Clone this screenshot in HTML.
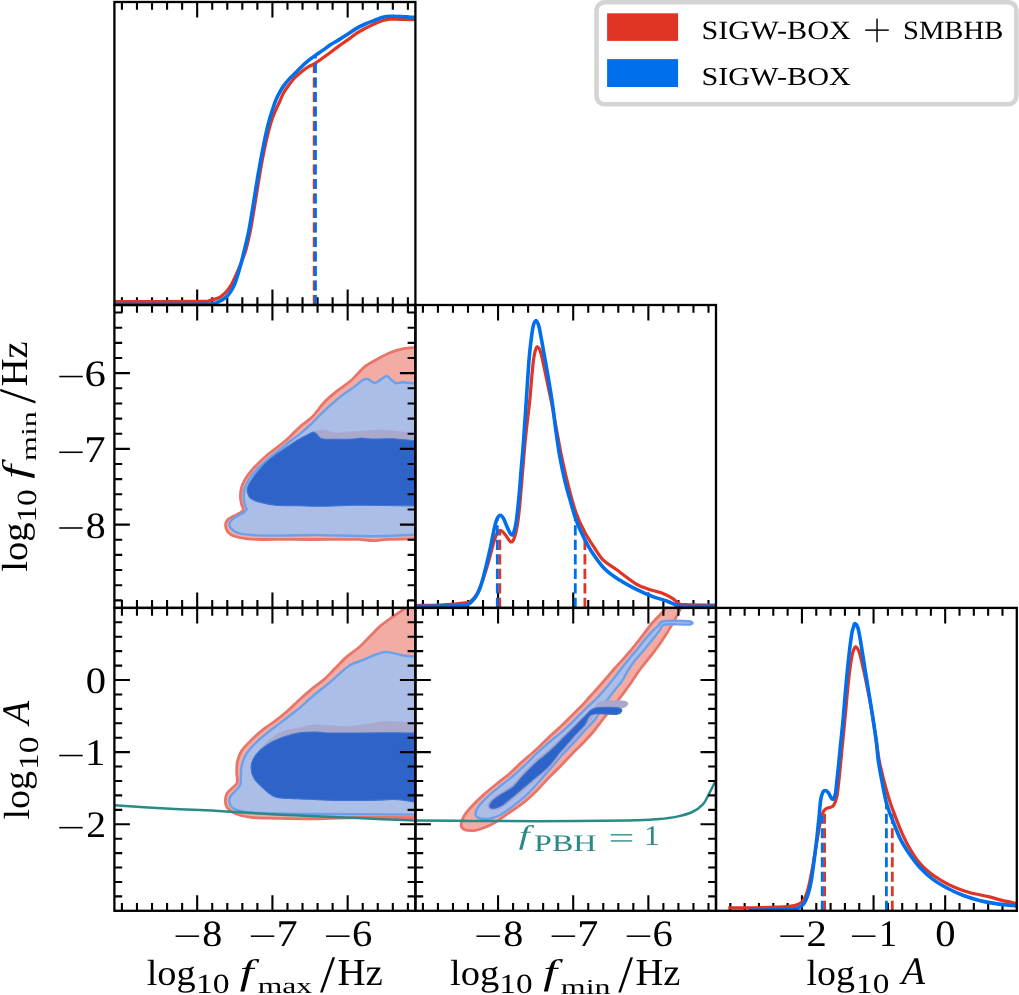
<!DOCTYPE html>
<html><head><meta charset="utf-8"><style>
html,body{margin:0;padding:0;background:#fff;}
body{width:1019px;height:995px;overflow:hidden;font-family:"Liberation Serif",serif;}
svg{display:block;}
text{text-rendering:geometricPrecision;}
svg{will-change:transform;}
</style></head><body>
<svg width="1019" height="995" viewBox="0 0 1019 995"><defs><clipPath id="cp00"><rect x="114.4" y="2" width="301" height="303"/></clipPath><clipPath id="cp10"><rect x="114.4" y="305" width="301" height="302.9"/></clipPath><clipPath id="cp11"><rect x="415.4" y="305" width="300.6" height="302.9"/></clipPath><clipPath id="cp20"><rect x="114.4" y="607.9" width="301" height="302.9"/></clipPath><clipPath id="cp21"><rect x="415.4" y="607.9" width="300.6" height="302.9"/></clipPath><clipPath id="cp22"><rect x="716" y="607.9" width="300.8" height="302.9"/></clipPath></defs><rect width="1019" height="995" fill="#fff"/><g clip-path="url(#cp10)"><path d="M425,347.6 C418.9,347.62 417.15,347.48 413.4,347.7 C409.65,347.92 406.32,348.1 402.5,348.9 C398.68,349.7 394.52,350.9 390.5,352.5 C386.48,354.1 382.63,356.18 378.4,358.5 C374.17,360.82 369.72,362.68 365.1,366.4 C360.48,370.12 355.52,376.58 350.7,380.8 C345.88,385.02 340.63,388.08 336.2,391.7 C331.77,395.32 328.12,398.28 324.1,402.5 C320.08,406.72 316.12,412.97 312.1,417 C308.08,421.03 304.3,422.87 300,426.7 C295.7,430.53 290.43,436.32 286.3,440 C282.17,443.68 278.88,445.85 275.2,448.8 C271.52,451.75 267.88,454.38 264.2,457.7 C260.52,461.02 256.23,465.2 253.1,468.7 C249.97,472.2 247.33,475.57 245.4,478.7 C243.47,481.83 242.33,484.55 241.5,487.5 C240.67,490.45 240.4,493.63 240.4,496.4 C240.4,499.17 241.03,501.88 241.5,504.1 C241.97,506.32 243.47,508.22 243.2,509.7 C242.93,511.18 241.55,511.9 239.9,513 C238.25,514.1 235.33,515.2 233.3,516.3 C231.27,517.4 229,518.13 227.7,519.6 C226.4,521.07 225.5,523.07 225.5,525.1 C225.5,527.13 226.22,529.95 227.7,531.8 C229.18,533.65 231.08,535.02 234.4,536.2 C237.72,537.38 242.63,538.35 247.6,538.9 C252.57,539.45 257.75,539.43 264.2,539.5 C270.65,539.57 278.93,539.3 286.3,539.3 C293.67,539.3 301.6,539.48 308.4,539.5 C315.2,539.52 318.92,539.42 327.1,539.4 C335.28,539.38 349.9,539.2 357.5,539.4 C365.1,539.6 367.62,540.6 372.7,540.6 C377.78,540.6 381.15,539.7 388,539.4 C394.85,539.1 407.63,538.9 413.8,538.8 C419.97,538.7 418.97,538.8 425,538.8 C431.03,538.8 445.83,570.67 450,538.8 C454.17,506.93 454.17,379.47 450,347.6 C445.83,315.73 431.1,347.58 425,347.6 Z" fill="#f2aca4" stroke="#e8756a" stroke-width="2.8" stroke-linejoin="round"/><path d="M425,383.3 C418.9,383.3 417.15,383.47 413.4,383.3 C409.65,383.13 405.32,382.3 402.5,382.3 C399.68,382.3 398.3,383.65 396.5,383.3 C394.7,382.95 393.3,381.42 391.7,380.2 C390.1,378.98 388.72,376.1 386.9,376 C385.08,375.9 382.62,378.5 380.8,379.6 C378.98,380.7 377.4,382.2 376,382.6 C374.6,383 373.8,382.6 372.4,382 C371,381.4 369.22,379.3 367.6,379 C365.98,378.7 364.92,378.88 362.7,380.2 C360.48,381.52 357.72,384.38 354.3,386.9 C350.88,389.42 347.23,391.28 342.2,395.3 C337.17,399.32 329.12,406.37 324.1,411 C319.08,415.63 316.12,419.28 312.1,423.1 C308.08,426.92 303.38,431.08 300,433.9 C296.62,436.72 295,437.52 291.8,440 C288.6,442.48 284.48,445.85 280.8,448.8 C277.12,451.75 273.75,454.18 269.7,457.7 C265.65,461.22 260,466.22 256.5,469.9 C253,473.58 250.73,476.48 248.7,479.8 C246.67,483.12 245.12,486.67 244.3,489.8 C243.48,492.93 243.62,495.85 243.8,498.6 C243.98,501.35 244.95,504.45 245.4,506.3 C245.85,508.15 247.05,508.5 246.5,509.7 C245.95,510.9 244.3,512.03 242.1,513.5 C239.9,514.97 235.42,516.75 233.3,518.5 C231.18,520.25 229.78,522.35 229.4,524 C229.02,525.65 229.62,526.92 231,528.4 C232.38,529.88 234.02,531.78 237.7,532.9 C241.38,534.02 246.85,534.65 253.1,535.1 C259.35,535.55 267.83,535.57 275.2,535.6 C282.57,535.63 289.83,535.38 297.3,535.3 C304.77,535.22 307.43,534.95 320,535.1 C332.57,535.25 357.07,536.25 372.7,536.2 C388.33,536.15 405.08,535.03 413.8,534.8 C422.52,534.57 418.97,534.8 425,534.8 C431.03,534.8 445.83,560.05 450,534.8 C454.17,509.55 454.17,408.55 450,383.3 C445.83,358.05 431.1,383.3 425,383.3 Z" fill="#aabee8" stroke="#6ca0ea" stroke-width="2.4" stroke-linejoin="round"/><path d="M425,432.7 C418.9,432.7 418.15,433 413.4,432.7 C408.65,432.4 402.33,431.4 396.5,430.9 C390.67,430.4 384.43,429.7 378.4,429.7 C372.37,429.7 365.32,430.6 360.3,430.9 C355.28,431.2 352.32,431.2 348.3,431.5 C344.28,431.8 340.23,433 336.2,432.7 C332.17,432.4 327.72,429.98 324.1,429.7 C320.48,429.42 317.18,430.2 314.5,431 C311.82,431.8 310.42,433.33 308,434.5 C305.58,435.67 303,436.42 300,438 C297,439.58 293.67,441.67 290,444 C286.33,446.33 282,449 278,452 C274,455 269.83,458.17 266,462 C262.17,465.83 257.83,471 255,475 C252.17,479 250,483 249,486 C248,489 248.5,491 249,493 C249.5,495 250.33,496.67 252,498 C253.67,499.33 255.13,500 259,501 C262.87,502 268.82,503.37 275.2,504 C281.58,504.63 283.58,504.75 297.3,504.8 C311.02,504.85 338.08,504.28 357.5,504.3 C376.92,504.32 402.55,504.8 413.8,504.9 C425.05,505 418.97,504.9 425,504.9 C431.03,504.9 445.83,516.93 450,504.9 C454.17,492.87 454.17,444.73 450,432.7 C445.83,420.67 431.1,432.7 425,432.7 Z" fill="#a9a8cd" stroke="none"/><path d="M425,440.5 C418.9,440.5 418.15,440.75 413.4,440.5 C408.65,440.25 400.32,439.3 396.5,439 C392.68,438.7 394.52,438.7 390.5,438.7 C386.48,438.7 377.43,439.1 372.4,439 C367.37,438.9 363.32,438.1 360.3,438.1 C357.28,438.1 358.32,438.8 354.3,439 C350.28,439.2 341.63,439.35 336.2,439.3 C330.77,439.25 324.92,439.5 321.7,438.7 C318.48,437.9 318.3,435.6 316.9,434.5 C315.5,433.4 314.92,432 313.3,432.1 C311.68,432.2 309.42,434 307.2,435.1 C304.98,436.2 301.65,437.83 300,438.7 C298.35,439.57 299.58,438.83 297.3,440.3 C295.02,441.77 289.98,445.05 286.3,447.5 C282.62,449.95 278.88,452.2 275.2,455 C271.52,457.8 267.88,460.53 264.2,464.3 C260.52,468.07 255.87,473.73 253.1,477.6 C250.33,481.47 248.52,484.92 247.6,487.5 C246.68,490.08 247.05,491.25 247.6,493.1 C248.15,494.95 249.05,497.13 250.9,498.6 C252.75,500.07 254.65,500.8 258.7,501.9 C262.75,503 268.77,504.55 275.2,505.2 C281.63,505.85 289.83,505.62 297.3,505.8 C304.77,505.98 309.97,506.38 320,506.3 C330.03,506.22 341.87,505.37 357.5,505.3 C373.13,505.23 402.55,505.8 413.8,505.9 C425.05,506 418.97,505.9 425,505.9 C431.03,505.9 445.83,516.8 450,505.9 C454.17,495 454.17,451.4 450,440.5 C445.83,429.6 431.1,440.5 425,440.5 Z" fill="#2e63c7" stroke="#3d74d6" stroke-width="1.1" stroke-linejoin="round"/></g><g clip-path="url(#cp20)"><path d="M425,598 C418.67,598 415.02,596.67 412,598 C408.98,599.33 408.45,604.02 406.9,606 C405.35,607.98 405.28,607.95 402.7,609.9 C400.12,611.85 395.15,615 391.4,617.7 C387.65,620.4 383.72,623.05 380.2,626.1 C376.68,629.15 373.82,632.48 370.3,636 C366.78,639.52 363.08,643.68 359.1,647.2 C355.12,650.72 350.38,653.58 346.4,657.1 C342.42,660.62 338.95,664.55 335.2,668.3 C331.45,672.05 327.88,676.08 323.9,679.6 C319.92,683.12 315.28,686.12 311.3,689.4 C307.32,692.68 303.78,695.87 300,699.3 C296.22,702.73 292.72,706.4 288.6,710 C284.48,713.6 279.52,717.68 275.3,720.9 C271.08,724.12 267.32,726.08 263.3,729.3 C259.28,732.52 254.83,736.58 251.2,740.2 C247.57,743.82 243.82,747.38 241.5,751 C239.18,754.62 238.1,758.28 237.3,761.9 C236.5,765.52 236.7,769.28 236.7,772.7 C236.7,776.12 237.9,779.98 237.3,782.4 C236.7,784.82 234.8,785.4 233.1,787.2 C231.4,789 228.4,790.98 227.1,793.2 C225.8,795.42 225.3,798.08 225.3,800.5 C225.3,802.92 225.4,805.5 227.1,807.7 C228.8,809.9 231.48,812.08 235.5,813.7 C239.52,815.32 244.57,816.63 251.2,817.4 C257.83,818.17 264.67,818.07 275.3,818.3 C285.93,818.53 301.3,818.93 315,818.8 C328.7,818.67 345.33,817.72 357.5,817.5 C369.67,817.28 378.63,817.47 388,817.5 C397.37,817.53 407.53,817.67 413.7,817.7 C419.87,817.73 418.95,817.7 425,817.7 C431.05,817.7 445.83,854.32 450,817.7 C454.17,781.08 454.17,634.62 450,598 C445.83,561.38 431.33,598 425,598 Z" fill="#f2aca4" stroke="#e8756a" stroke-width="2.8" stroke-linejoin="round"/><path d="M425,656.4 C418.75,656.4 416.45,656.63 412.5,656.4 C408.55,656.17 404.82,655.63 401.3,655 C397.78,654.37 394.22,653.08 391.4,652.6 C388.58,652.12 387.2,651.7 384.4,652.1 C381.6,652.5 378.12,653.7 374.6,655 C371.08,656.3 367.3,658.27 363.3,659.9 C359.3,661.53 354.58,662.47 350.6,664.8 C346.62,667.13 343.15,670.73 339.4,673.9 C335.65,677.07 332.32,680.28 328.1,683.8 C323.88,687.32 318.78,691.02 314.1,695 C309.42,698.98 302.85,705.2 300,707.7 C297.15,710.2 300.12,707.6 297,710 C293.88,712.4 286.52,718.08 281.3,722.1 C276.08,726.12 270.32,730.28 265.7,734.1 C261.08,737.92 257.02,741.38 253.6,745 C250.18,748.62 247.22,752.18 245.2,755.8 C243.18,759.42 242.22,763.07 241.5,766.7 C240.78,770.33 241.1,774.58 240.9,777.6 C240.7,780.62 241.2,782.6 240.3,784.8 C239.4,787 237.2,788.78 235.5,790.8 C233.8,792.82 231.1,794.88 230.1,796.9 C229.1,798.92 229,801 229.5,802.9 C230,804.8 230.48,806.8 233.1,808.3 C235.72,809.8 238.17,811.03 245.2,811.9 C252.23,812.77 263.67,813.15 275.3,813.5 C286.93,813.85 291.93,813.82 315,814 C338.07,814.18 395.37,814.5 413.7,814.6 C432.03,814.7 418.95,814.6 425,814.6 C431.05,814.6 445.83,840.97 450,814.6 C454.17,788.23 454.17,682.77 450,656.4 C445.83,630.03 431.25,656.4 425,656.4 Z" fill="#aabee8" stroke="#6ca0ea" stroke-width="2.4" stroke-linejoin="round"/><path d="M425,722.5 C419,722.5 418.42,722.62 414,722.5 C409.58,722.38 403.9,721.97 398.5,721.8 C393.1,721.63 387.47,721.03 381.6,721.5 C375.73,721.97 369.17,723.8 363.3,724.6 C357.43,725.4 352.27,726.18 346.4,726.3 C340.53,726.42 333.48,725.58 328.1,725.3 C322.72,725.02 318.78,724.23 314.1,724.6 C309.42,724.97 305.47,726.32 300,727.5 C294.53,728.68 286.63,729.45 281.3,731.7 C275.97,733.95 271.88,737.62 268,741 C264.12,744.38 260.5,748 258,752 C255.5,756 253.5,760.83 253,765 C252.5,769.17 253.17,773.33 255,777 C256.83,780.67 260.5,783.92 264,787 C267.5,790.08 271.1,793.75 276,795.5 C280.9,797.25 283.57,796.92 293.4,797.5 C303.23,798.08 318.23,798.83 335,799 C351.77,799.17 380.83,798.33 394,798.5 C407.17,798.67 408.83,799.75 414,800 C419.17,800.25 419,800 425,800 C431,800 445.83,812.92 450,800 C454.17,787.08 454.17,735.42 450,722.5 C445.83,709.58 431,722.5 425,722.5 Z" fill="#a9a8cd" stroke="none"/><path d="M425,733 C419,733 420.77,733.03 414,733 C407.23,732.97 394.02,732.8 384.4,732.8 C374.78,732.8 365.68,732.97 356.3,733 C346.92,733.03 334.98,733.17 328.1,733 C321.22,732.83 319.78,732.02 315,732 C310.22,731.98 305.02,731.95 299.4,732.9 C293.78,733.85 286.72,735.68 281.3,737.7 C275.88,739.72 271.12,742.18 266.9,745 C262.68,747.82 258.62,751.18 256,754.6 C253.38,758.02 251.6,761.67 251.2,765.5 C250.8,769.33 251.58,773.78 253.6,777.6 C255.62,781.42 259.68,785.18 263.3,788.4 C266.92,791.62 270.28,795.18 275.3,796.9 C280.32,798.62 289.28,798.37 293.4,798.7 C297.52,799.03 293.02,798.62 300,798.9 C306.98,799.18 323.52,800.15 335.3,800.4 C347.08,800.65 360.88,800.55 370.7,800.4 C380.52,800.25 388.32,799.45 394.2,799.5 C400.08,799.55 402.75,800.32 406,800.7 C409.25,801.08 410.53,801.62 413.7,801.8 C416.87,801.98 418.95,801.8 425,801.8 C431.05,801.8 445.83,813.27 450,801.8 C454.17,790.33 454.17,744.47 450,733 C445.83,721.53 431,733 425,733 Z" fill="#2e63c7" stroke="#3d74d6" stroke-width="1.1" stroke-linejoin="round"/><path d="M110,805.1 C110.73,805.13 103.58,804.65 114.4,805.3 C125.22,805.95 158.13,808.1 174.9,809 C191.67,809.9 204.3,810.15 215,810.7 C225.7,811.25 231.05,811.8 239.1,812.3 C247.15,812.8 255.25,813.27 263.3,813.7 C271.35,814.13 281.28,814.6 287.4,814.9 C293.52,815.2 295.4,815.28 300,815.5 C304.6,815.72 305.42,815.77 315,816.2 C324.58,816.63 340.77,817.38 357.5,818.1 C374.23,818.82 404.98,820.08 415.4,820.5 C425.82,820.92 419.23,820.58 420,820.6" fill="none" stroke="#2a8a86" stroke-width="2.5"/></g><g clip-path="url(#cp21)"><path d="M663,598 C659.17,599.73 666.93,604.07 665,608.4 C663.07,612.73 655.92,618.47 651.4,624 C646.88,629.53 642.42,635.95 637.9,641.6 C633.38,647.25 628.12,653.5 624.3,657.9 C620.48,662.3 617.53,665.15 615,668 C612.47,670.85 611.18,672.58 609.1,675 C607.02,677.42 604.68,680 602.5,682.5 C600.32,685 598.17,687.58 596,690 C593.83,692.42 591.47,694.8 589.5,697 C587.53,699.2 586.75,700.5 584.2,703.2 C581.65,705.9 577.72,709.68 574.2,713.2 C570.68,716.72 566.78,720.78 563.1,724.3 C559.42,727.82 556.03,730.62 552.1,734.3 C548.17,737.98 543.18,742.95 539.5,746.4 C535.82,749.85 533.02,752.33 530,755 C526.98,757.67 524.73,759.35 521.4,762.4 C518.07,765.45 513.9,769.9 510,773.3 C506.1,776.7 502.17,779.42 498,782.8 C493.83,786.18 489.08,789.98 485,793.6 C480.92,797.22 476.92,800.88 473.5,804.5 C470.08,808.12 466.57,811.92 464.5,815.3 C462.43,818.68 461.1,822.42 461.1,824.8 C461.1,827.18 462.12,828.68 464.5,829.6 C466.88,830.52 471.78,830.75 475.4,830.3 C479.02,829.85 482.82,828.27 486.2,826.9 C489.58,825.53 491.85,824.48 495.7,822.1 C499.55,819.72 504.77,815.77 509.3,812.6 C513.83,809.43 518.38,806.72 522.9,803.1 C527.42,799.48 532.22,795 536.4,790.9 C540.58,786.8 544.05,782.57 548,778.5 C551.95,774.43 556.1,770.58 560.1,766.5 C564.1,762.42 568.02,758.08 572,754 C575.98,749.92 580.42,745.75 584,742 C587.58,738.25 590.5,735.08 593.5,731.5 C596.5,727.92 599.57,723.63 602,720.5 C604.43,717.37 606.08,715.25 608.1,712.7 C610.12,710.15 612.1,707.72 614.1,705.2 C616.1,702.68 618.17,700.12 620.1,697.6 C622.03,695.08 623.85,692.62 625.7,690.1 C627.55,687.58 629.45,685.02 631.2,682.5 C632.95,679.98 634.48,677.5 636.2,675 C637.92,672.5 638.97,670.8 641.5,667.5 C644.03,664.2 647.93,659.73 651.4,655.2 C654.87,650.67 658.67,645.73 662.3,640.3 C665.93,634.87 670.15,627.92 673.2,622.6 C676.25,617.28 678.63,612.5 680.6,608.4 C682.57,604.3 680.1,599.73 685,598 C689.9,596.27 709.5,598 710,598 C710.5,598 695.83,598 688,598 C680.17,598 666.83,596.27 663,598 Z" fill="#f2aca4" stroke="#e8756a" stroke-width="2.8" stroke-linejoin="round"/><path d="M663.7,621.3 C658.58,622.08 660.05,624.2 658,626 C655.95,627.8 653.65,629.77 651.4,632.1 C649.15,634.43 646.75,637.28 644.5,640 C642.25,642.72 640.15,645.65 637.9,648.4 C635.65,651.15 633.27,653.78 631,656.5 C628.73,659.22 626.62,661.78 624.3,664.7 C621.98,667.62 619.47,670.95 617.1,674 C614.73,677.05 612.53,680 610.1,683 C607.67,686 605.02,689.17 602.5,692 C599.98,694.83 597.58,697.42 595,700 C592.42,702.58 589.47,705.13 587,707.5 C584.53,709.87 583,711.4 580.2,714.2 C577.4,717 573.55,721.12 570.2,724.3 C566.85,727.48 563.63,730.27 560.1,733.3 C556.57,736.33 552.77,739.27 549,742.5 C545.23,745.73 541.33,749.12 537.5,752.7 C533.67,756.28 530.08,760.12 526,764 C521.92,767.88 517.17,772.42 513,776 C508.83,779.58 505.17,782.12 501,785.5 C496.83,788.88 491.67,792.92 488,796.3 C484.33,799.68 481.1,802.85 479,805.8 C476.9,808.75 475.43,811.97 475.4,814 C475.37,816.03 476.55,817.22 478.8,818 C481.05,818.78 485.4,819.15 488.9,818.7 C492.4,818.25 496.03,817.22 499.8,815.3 C503.57,813.38 507.53,810.13 511.5,807.2 C515.47,804.27 519.57,801.32 523.6,797.7 C527.63,794.08 531.38,790.2 535.7,785.5 C540.02,780.8 545.03,774.67 549.5,769.5 C553.97,764.33 558.42,759.02 562.5,754.5 C566.58,749.98 570.25,746.43 574,742.4 C577.75,738.37 581.5,734.12 585,730.3 C588.5,726.48 592,723.55 595,719.5 C598,715.45 600.58,709.75 603,706 C605.42,702.25 607.33,699.92 609.5,697 C611.67,694.08 613.92,691.17 616,688.5 C618.08,685.83 620,684 622,681 C624,678 625.92,673.83 628,670.5 C630.08,667.17 632.18,664 634.5,661 C636.82,658 639.65,655.17 641.9,652.5 C644.15,649.83 645.95,647.48 648,645 C650.05,642.52 652.2,640.1 654.2,637.6 C656.2,635.1 658.2,632.18 660,630 C661.8,627.82 660,625.42 665,624.5 C670,623.58 686.05,625.03 690,624.5 C693.95,623.97 693.08,621.83 688.7,621.3 C684.32,620.77 668.82,620.52 663.7,621.3 Z" fill="#aabee8" stroke="#6ca0ea" stroke-width="2.4" stroke-linejoin="round"/><path d="M601.2,701.2 C595.83,702.33 596.7,705.78 594,708 C591.3,710.22 588.25,711.75 585,714.5 C581.75,717.25 578,721.17 574.5,724.5 C571,727.83 567.5,731.12 564,734.5 C560.5,737.88 556.92,741.58 553.5,744.8 C550.08,748.02 546.58,751.13 543.5,753.8 C540.42,756.47 538.67,757.35 535,760.8 C531.33,764.25 525.33,770.47 521.5,774.5 C517.67,778.53 515.33,782.12 512,785 C508.67,787.88 504.92,789.5 501.5,791.8 C498.08,794.1 493.82,796.47 491.5,798.8 C489.18,801.13 487.52,803.88 487.6,805.8 C487.68,807.72 489.6,809.97 492,810.3 C494.4,810.63 498.05,810.02 502,807.8 C505.95,805.58 510.7,801.07 515.7,797 C520.7,792.93 526.37,788.18 532,783.4 C537.63,778.62 544.58,773.2 549.5,768.3 C554.42,763.4 558.17,757.88 561.5,754 C564.83,750.12 566.83,748 569.5,745 C572.17,742 574.67,739.12 577.5,736 C580.33,732.88 583.75,729.63 586.5,726.3 C589.25,722.97 592,719.05 594,716 C596,712.95 593.58,709.33 598.5,708 C603.42,706.67 618.88,709.13 623.5,708 C628.12,706.87 629.92,702.33 626.2,701.2 C622.48,700.07 606.57,700.07 601.2,701.2 Z" fill="#a9a8cd" stroke="none"/><path d="M594.8,708.2 C589.03,709.53 588.47,713.18 585.2,716.2 C581.93,719.22 578.55,722.95 575.2,726.3 C571.85,729.65 568.45,732.95 565.1,736.3 C561.75,739.65 558.45,743.22 555.1,746.4 C551.75,749.58 548.12,752.73 545,755.4 C541.88,758.07 540.08,758.97 536.4,762.4 C532.72,765.83 526.73,771.93 522.9,776 C519.07,780.07 516.8,783.87 513.4,786.8 C510,789.73 505.9,791.33 502.5,793.6 C499.1,795.87 495.15,798.37 493,800.4 C490.85,802.43 489.6,804.45 489.6,805.8 C489.6,807.15 491.07,808.5 493,808.5 C494.93,808.5 497.58,808.05 501.2,805.8 C504.82,803.55 509.73,799.07 514.7,795 C519.67,790.93 525.37,786.18 531,781.4 C536.63,776.62 543.67,771.2 548.5,766.3 C553.33,761.4 556.75,755.88 560,752 C563.25,748.12 565.33,746 568,743 C570.67,740 573.17,737.12 576,734 C578.83,730.88 582.28,727.6 585,724.3 C587.72,721 586.92,715.88 592.3,714.2 C597.68,712.52 612.72,715.2 617.3,714.2 C621.88,713.2 623.55,709.2 619.8,708.2 C616.05,707.2 600.57,706.87 594.8,708.2 Z" fill="#2e63c7" stroke="#3d74d6" stroke-width="1.1" stroke-linejoin="round"/><path d="M410,820.4 C410.9,820.42 405.4,820.42 415.4,820.5 C425.4,820.58 449.75,820.78 470,820.9 C490.25,821.02 510.52,821.27 536.9,821.2 C563.28,821.13 607.98,820.87 628.3,820.5 C648.62,820.13 650.68,819.65 658.8,819 C666.92,818.35 671.42,817.77 677,816.6 C682.58,815.43 687.98,814.03 692.3,812 C696.62,809.97 700.12,807.43 702.9,804.4 C705.68,801.37 706.82,797.87 709,793.8 C711.18,789.73 714.17,783.8 716,780 C717.83,776.2 719.33,772.5 720,771" fill="none" stroke="#2a8a86" stroke-width="2.5"/></g><path d="M197.17,305 v-15.5 M197.17,2 v15.5 M272.42,305 v-15.5 M272.42,2 v15.5 M347.67,305 v-15.5 M347.67,2 v15.5 M121.92,305 v-7.8 M121.92,2 v7.8 M136.97,305 v-7.8 M136.97,2 v7.8 M152.03,305 v-7.8 M152.03,2 v7.8 M167.07,305 v-7.8 M167.07,2 v7.8 M182.13,305 v-7.8 M182.13,2 v7.8 M212.22,305 v-7.8 M212.22,2 v7.8 M227.28,305 v-7.8 M227.28,2 v7.8 M242.32,305 v-7.8 M242.32,2 v7.8 M257.38,305 v-7.8 M257.38,2 v7.8 M287.48,305 v-7.8 M287.48,2 v7.8 M302.52,305 v-7.8 M302.52,2 v7.8 M317.57,305 v-7.8 M317.57,2 v7.8 M332.62,305 v-7.8 M332.62,2 v7.8 M362.73,305 v-7.8 M362.73,2 v7.8 M377.77,305 v-7.8 M377.77,2 v7.8 M392.82,305 v-7.8 M392.82,2 v7.8 M407.88,305 v-7.8 M407.88,2 v7.8 M197.17,607.9 v-15.5 M197.17,305 v15.5 M272.42,607.9 v-15.5 M272.42,305 v15.5 M347.67,607.9 v-15.5 M347.67,305 v15.5 M121.92,607.9 v-7.8 M121.92,305 v7.8 M136.97,607.9 v-7.8 M136.97,305 v7.8 M152.03,607.9 v-7.8 M152.03,305 v7.8 M167.07,607.9 v-7.8 M167.07,305 v7.8 M182.13,607.9 v-7.8 M182.13,305 v7.8 M212.22,607.9 v-7.8 M212.22,305 v7.8 M227.28,607.9 v-7.8 M227.28,305 v7.8 M242.32,607.9 v-7.8 M242.32,305 v7.8 M257.38,607.9 v-7.8 M257.38,305 v7.8 M287.48,607.9 v-7.8 M287.48,305 v7.8 M302.52,607.9 v-7.8 M302.52,305 v7.8 M317.57,607.9 v-7.8 M317.57,305 v7.8 M332.62,607.9 v-7.8 M332.62,305 v7.8 M362.73,607.9 v-7.8 M362.73,305 v7.8 M377.77,607.9 v-7.8 M377.77,305 v7.8 M392.82,607.9 v-7.8 M392.82,305 v7.8 M407.88,607.9 v-7.8 M407.88,305 v7.8 M114.4,524.6 h15.5 M415.4,524.6 h-15.5 M114.4,448.88 h15.5 M415.4,448.88 h-15.5 M114.4,373.15 h15.5 M415.4,373.15 h-15.5 M114.4,600.33 h7.8 M415.4,600.33 h-7.8 M114.4,585.18 h7.8 M415.4,585.18 h-7.8 M114.4,570.04 h7.8 M415.4,570.04 h-7.8 M114.4,554.89 h7.8 M415.4,554.89 h-7.8 M114.4,539.75 h7.8 M415.4,539.75 h-7.8 M114.4,509.46 h7.8 M415.4,509.46 h-7.8 M114.4,494.31 h7.8 M415.4,494.31 h-7.8 M114.4,479.17 h7.8 M415.4,479.17 h-7.8 M114.4,464.02 h7.8 M415.4,464.02 h-7.8 M114.4,433.73 h7.8 M415.4,433.73 h-7.8 M114.4,418.59 h7.8 M415.4,418.59 h-7.8 M114.4,403.44 h7.8 M415.4,403.44 h-7.8 M114.4,388.3 h7.8 M415.4,388.3 h-7.8 M114.4,358.01 h7.8 M415.4,358.01 h-7.8 M114.4,342.86 h7.8 M415.4,342.86 h-7.8 M114.4,327.72 h7.8 M415.4,327.72 h-7.8 M114.4,312.57 h7.8 M415.4,312.57 h-7.8 M498.06,607.9 v-15.5 M498.06,305 v15.5 M573.21,607.9 v-15.5 M573.21,305 v15.5 M648.37,607.9 v-15.5 M648.37,305 v15.5 M422.91,607.9 v-7.8 M422.91,305 v7.8 M437.94,607.9 v-7.8 M437.94,305 v7.8 M452.97,607.9 v-7.8 M452.97,305 v7.8 M468,607.9 v-7.8 M468,305 v7.8 M483.04,607.9 v-7.8 M483.04,305 v7.8 M513.1,607.9 v-7.8 M513.1,305 v7.8 M528.12,607.9 v-7.8 M528.12,305 v7.8 M543.15,607.9 v-7.8 M543.15,305 v7.8 M558.18,607.9 v-7.8 M558.18,305 v7.8 M588.25,607.9 v-7.8 M588.25,305 v7.8 M603.27,607.9 v-7.8 M603.27,305 v7.8 M618.3,607.9 v-7.8 M618.3,305 v7.8 M633.33,607.9 v-7.8 M633.33,305 v7.8 M663.39,607.9 v-7.8 M663.39,305 v7.8 M678.42,607.9 v-7.8 M678.42,305 v7.8 M693.45,607.9 v-7.8 M693.45,305 v7.8 M708.48,607.9 v-7.8 M708.48,305 v7.8 M197.17,910.8 v-15.5 M197.17,607.9 v15.5 M272.42,910.8 v-15.5 M272.42,607.9 v15.5 M347.67,910.8 v-15.5 M347.67,607.9 v15.5 M121.92,910.8 v-7.8 M121.92,607.9 v7.8 M136.97,910.8 v-7.8 M136.97,607.9 v7.8 M152.03,910.8 v-7.8 M152.03,607.9 v7.8 M167.07,910.8 v-7.8 M167.07,607.9 v7.8 M182.13,910.8 v-7.8 M182.13,607.9 v7.8 M212.22,910.8 v-7.8 M212.22,607.9 v7.8 M227.28,910.8 v-7.8 M227.28,607.9 v7.8 M242.32,910.8 v-7.8 M242.32,607.9 v7.8 M257.38,910.8 v-7.8 M257.38,607.9 v7.8 M287.48,910.8 v-7.8 M287.48,607.9 v7.8 M302.52,910.8 v-7.8 M302.52,607.9 v7.8 M317.57,910.8 v-7.8 M317.57,607.9 v7.8 M332.62,910.8 v-7.8 M332.62,607.9 v7.8 M362.73,910.8 v-7.8 M362.73,607.9 v7.8 M377.77,910.8 v-7.8 M377.77,607.9 v7.8 M392.82,910.8 v-7.8 M392.82,607.9 v7.8 M407.88,910.8 v-7.8 M407.88,607.9 v7.8 M114.4,824.26 h15.5 M415.4,824.26 h-15.5 M114.4,752.14 h15.5 M415.4,752.14 h-15.5 M114.4,680.02 h15.5 M415.4,680.02 h-15.5 M114.4,896.38 h7.8 M415.4,896.38 h-7.8 M114.4,881.95 h7.8 M415.4,881.95 h-7.8 M114.4,867.53 h7.8 M415.4,867.53 h-7.8 M114.4,853.1 h7.8 M415.4,853.1 h-7.8 M114.4,838.68 h7.8 M415.4,838.68 h-7.8 M114.4,809.83 h7.8 M415.4,809.83 h-7.8 M114.4,795.41 h7.8 M415.4,795.41 h-7.8 M114.4,780.99 h7.8 M415.4,780.99 h-7.8 M114.4,766.56 h7.8 M415.4,766.56 h-7.8 M114.4,737.71 h7.8 M415.4,737.71 h-7.8 M114.4,723.29 h7.8 M415.4,723.29 h-7.8 M114.4,708.87 h7.8 M415.4,708.87 h-7.8 M114.4,694.44 h7.8 M415.4,694.44 h-7.8 M114.4,665.6 h7.8 M415.4,665.6 h-7.8 M114.4,651.17 h7.8 M415.4,651.17 h-7.8 M114.4,636.75 h7.8 M415.4,636.75 h-7.8 M114.4,622.32 h7.8 M415.4,622.32 h-7.8 M498.06,910.8 v-15.5 M498.06,607.9 v15.5 M573.21,910.8 v-15.5 M573.21,607.9 v15.5 M648.37,910.8 v-15.5 M648.37,607.9 v15.5 M422.91,910.8 v-7.8 M422.91,607.9 v7.8 M437.94,910.8 v-7.8 M437.94,607.9 v7.8 M452.97,910.8 v-7.8 M452.97,607.9 v7.8 M468,910.8 v-7.8 M468,607.9 v7.8 M483.04,910.8 v-7.8 M483.04,607.9 v7.8 M513.1,910.8 v-7.8 M513.1,607.9 v7.8 M528.12,910.8 v-7.8 M528.12,607.9 v7.8 M543.15,910.8 v-7.8 M543.15,607.9 v7.8 M558.18,910.8 v-7.8 M558.18,607.9 v7.8 M588.25,910.8 v-7.8 M588.25,607.9 v7.8 M603.27,910.8 v-7.8 M603.27,607.9 v7.8 M618.3,910.8 v-7.8 M618.3,607.9 v7.8 M633.33,910.8 v-7.8 M633.33,607.9 v7.8 M663.39,910.8 v-7.8 M663.39,607.9 v7.8 M678.42,910.8 v-7.8 M678.42,607.9 v7.8 M693.45,910.8 v-7.8 M693.45,607.9 v7.8 M708.48,910.8 v-7.8 M708.48,607.9 v7.8 M415.4,824.26 h15.5 M716,824.26 h-15.5 M415.4,752.14 h15.5 M716,752.14 h-15.5 M415.4,680.02 h15.5 M716,680.02 h-15.5 M415.4,896.38 h7.8 M716,896.38 h-7.8 M415.4,881.95 h7.8 M716,881.95 h-7.8 M415.4,867.53 h7.8 M716,867.53 h-7.8 M415.4,853.1 h7.8 M716,853.1 h-7.8 M415.4,838.68 h7.8 M716,838.68 h-7.8 M415.4,809.83 h7.8 M716,809.83 h-7.8 M415.4,795.41 h7.8 M716,795.41 h-7.8 M415.4,780.99 h7.8 M716,780.99 h-7.8 M415.4,766.56 h7.8 M716,766.56 h-7.8 M415.4,737.71 h7.8 M716,737.71 h-7.8 M415.4,723.29 h7.8 M716,723.29 h-7.8 M415.4,708.87 h7.8 M716,708.87 h-7.8 M415.4,694.44 h7.8 M716,694.44 h-7.8 M415.4,665.6 h7.8 M716,665.6 h-7.8 M415.4,651.17 h7.8 M716,651.17 h-7.8 M415.4,636.75 h7.8 M716,636.75 h-7.8 M415.4,622.32 h7.8 M716,622.32 h-7.8 M801.94,910.8 v-15.5 M801.94,607.9 v15.5 M873.56,910.8 v-15.5 M873.56,607.9 v15.5 M945.18,910.8 v-15.5 M945.18,607.9 v15.5 M730.32,910.8 v-7.8 M730.32,607.9 v7.8 M744.65,910.8 v-7.8 M744.65,607.9 v7.8 M758.97,910.8 v-7.8 M758.97,607.9 v7.8 M773.3,910.8 v-7.8 M773.3,607.9 v7.8 M787.62,910.8 v-7.8 M787.62,607.9 v7.8 M816.27,910.8 v-7.8 M816.27,607.9 v7.8 M830.59,910.8 v-7.8 M830.59,607.9 v7.8 M844.91,910.8 v-7.8 M844.91,607.9 v7.8 M859.24,910.8 v-7.8 M859.24,607.9 v7.8 M887.89,910.8 v-7.8 M887.89,607.9 v7.8 M902.21,910.8 v-7.8 M902.21,607.9 v7.8 M916.53,910.8 v-7.8 M916.53,607.9 v7.8 M930.86,910.8 v-7.8 M930.86,607.9 v7.8 M959.5,910.8 v-7.8 M959.5,607.9 v7.8 M973.83,910.8 v-7.8 M973.83,607.9 v7.8 M988.15,910.8 v-7.8 M988.15,607.9 v7.8 M1002.48,910.8 v-7.8 M1002.48,607.9 v7.8 " stroke="#000" stroke-width="2.1" fill="none"/><g clip-path="url(#cp00)" fill="none"><line x1="314.2" y1="305" x2="314.2" y2="63.5" stroke="#e03424" stroke-width="2.8" stroke-dasharray="10.1 4.4"/><path d="M110,301.6 C125,301.57 183.33,301.63 200,301.4 C216.67,301.17 207.07,300.73 210,300.2 C212.93,299.67 215.5,299.03 217.6,298.2 C219.7,297.37 220.93,296.53 222.6,295.2 C224.27,293.87 226.08,292.05 227.6,290.2 C229.12,288.35 230.43,286.37 231.7,284.1 C232.97,281.83 233.95,279.35 235.2,276.6 C236.45,273.85 237.95,270.53 239.2,267.6 C240.45,264.67 241.5,262.27 242.7,259 C243.9,255.73 245.17,252.5 246.4,248 C247.63,243.5 249,237.33 250.1,232 C251.2,226.67 252.08,221.33 253,216 C253.92,210.67 254.63,206 255.6,200 C256.57,194 257.68,186.67 258.8,180 C259.92,173.33 261.1,166.33 262.3,160 C263.5,153.67 264.82,147.33 266,142 C267.18,136.67 268.32,132 269.4,128 C270.48,124 271.4,121.08 272.5,118 C273.6,114.92 274.83,112.17 276,109.5 C277.17,106.83 278.28,104.67 279.5,102 C280.72,99.33 281.73,96.33 283.3,93.5 C284.87,90.67 287.02,87.58 288.9,85 C290.78,82.42 292.48,80.22 294.6,78 C296.72,75.78 299.27,73.58 301.6,71.7 C303.93,69.82 306.48,68 308.6,66.7 C310.72,65.4 312.18,65.18 314.3,63.9 C316.42,62.62 318.68,60.87 321.3,59 C323.92,57.13 327.08,54.85 330,52.7 C332.92,50.55 335.85,48.23 338.8,46.1 C341.75,43.97 344.75,42.03 347.7,39.9 C350.65,37.77 353.57,35.22 356.5,33.3 C359.43,31.38 362.35,29.95 365.3,28.4 C368.25,26.85 371.25,25.32 374.2,24 C377.15,22.68 380.35,21.32 383,20.5 C385.65,19.68 387.15,19.3 390.1,19.1 C393.05,18.9 396.8,19.22 400.7,19.3 C404.6,19.38 410.28,19.53 413.5,19.6 C416.72,19.67 418.92,19.68 420,19.7" stroke="#e03424" stroke-width="3.2" stroke-linejoin="round"/><line x1="315.5" y1="305" x2="315.5" y2="56" stroke="#006fec" stroke-width="2.8" stroke-dasharray="10.1 4.4"/><path d="M110,304.2 C125,304.2 183,304.27 200,304.2 C217,304.13 209.25,304.07 212,303.8 C214.75,303.53 214.98,303.15 216.5,302.6 C218.02,302.05 219.5,301.4 221.1,300.5 C222.7,299.6 224.58,298.58 226.1,297.2 C227.62,295.82 228.93,294.03 230.2,292.2 C231.47,290.37 232.7,288.23 233.7,286.2 C234.7,284.17 235,283.7 236.2,280 C237.4,276.3 239.45,269.33 240.9,264 C242.35,258.67 243.62,253.33 244.9,248 C246.18,242.67 247.52,237.33 248.6,232 C249.68,226.67 250.5,221.33 251.4,216 C252.3,210.67 253.03,206 254,200 C254.97,194 256.08,186.67 257.2,180 C258.32,173.33 259.53,166.33 260.7,160 C261.87,153.67 263.1,147.33 264.2,142 C265.3,136.67 266.3,132.17 267.3,128 C268.3,123.83 269.23,120.33 270.2,117 C271.17,113.67 272.18,110.75 273.1,108 C274.02,105.25 274.7,102.93 275.7,100.5 C276.7,98.07 277.83,95.75 279.1,93.4 C280.37,91.05 281.67,88.73 283.3,86.4 C284.93,84.07 286.9,81.62 288.9,79.4 C290.9,77.18 293.07,75.33 295.3,73.1 C297.53,70.87 300.08,68.12 302.3,66 C304.52,63.88 306.37,62.22 308.6,60.4 C310.83,58.58 313.23,56.85 315.7,55.1 C318.17,53.35 321.02,51.58 323.4,49.9 C325.78,48.22 327.43,46.67 330,45 C332.57,43.33 335.85,41.7 338.8,39.9 C341.75,38.1 344.75,36.12 347.7,34.2 C350.65,32.28 353.57,30.1 356.5,28.4 C359.43,26.7 362.35,25.32 365.3,24 C368.25,22.68 371.55,21.53 374.2,20.5 C376.85,19.47 379.15,18.47 381.2,17.8 C383.25,17.13 384.73,16.75 386.5,16.5 C388.27,16.25 389.43,16.3 391.8,16.3 C394.17,16.3 398.18,16.4 400.7,16.5 C403.22,16.6 404.77,16.75 406.9,16.9 C409.03,17.05 411.32,17.25 413.5,17.4 C415.68,17.55 418.92,17.73 420,17.8" stroke="#006fec" stroke-width="3.6" stroke-linejoin="round"/></g><g clip-path="url(#cp11)" fill="none"><line x1="499.8" y1="607.9" x2="499.8" y2="531" stroke="#e03424" stroke-width="2.8" stroke-dasharray="10.1 4.4"/><line x1="584.9" y1="607.9" x2="584.9" y2="533" stroke="#e03424" stroke-width="2.8" stroke-dasharray="10.1 4.4"/><path d="M410,605.6 C410.9,605.58 410.4,605.6 415.4,605.5 C420.4,605.4 433.4,605.25 440,605 C446.6,604.75 451.17,604.33 455,604 C458.83,603.67 460.45,603.4 463,603 C465.55,602.6 467.95,603.13 470.3,601.6 C472.65,600.07 474.83,597.95 477.1,593.8 C479.37,589.65 481.9,582.4 483.9,576.7 C485.9,571 487.38,565.58 489.1,559.6 C490.82,553.62 492.78,545.35 494.2,540.8 C495.62,536.25 496.47,534.02 497.6,532.3 C498.73,530.58 499.72,530.08 501,530.5 C502.28,530.92 503.73,532.93 505.3,534.8 C506.87,536.67 508.98,540.98 510.4,541.7 C511.82,542.42 512.65,541.82 513.8,539.1 C514.95,536.38 516.3,531.1 517.3,525.4 C518.3,519.7 518.95,513.43 519.8,504.9 C520.65,496.37 521.55,484.3 522.4,474.2 C523.25,464.1 524.15,452.5 524.9,444.3 C525.65,436.1 526.3,430.38 526.9,425 C527.5,419.62 527.98,416.5 528.5,412 C529.02,407.5 529.5,403.33 530,398 C530.5,392.67 530.92,386.33 531.5,380 C532.08,373.67 532.87,364.92 533.5,360 C534.13,355.08 534.68,352.7 535.3,350.5 C535.92,348.3 536.53,347.08 537.2,346.8 C537.87,346.52 538.6,347.43 539.3,348.8 C540,350.17 540.65,352.13 541.4,355 C542.15,357.87 542.83,361.5 543.8,366 C544.77,370.5 545.87,375.67 547.2,382 C548.53,388.33 550.23,396 551.8,404 C553.37,412 554.95,421.15 556.6,430 C558.25,438.85 559.65,447.45 561.7,457.1 C563.75,466.75 566.48,478.55 568.9,487.9 C571.32,497.25 573.48,505.67 576.2,513.2 C578.92,520.73 582.18,527.37 585.2,533.1 C588.22,538.83 591.28,543.08 594.3,547.6 C597.32,552.12 599.68,556.58 603.3,560.2 C606.92,563.82 610.57,565.37 616,569.3 C621.43,573.23 630.48,580.48 635.9,583.8 C641.32,587.12 644.28,587.7 648.5,589.2 C652.72,590.7 657.27,591.3 661.2,592.8 C665.13,594.3 669.08,596.38 672.1,598.2 C675.12,600.02 677.2,602.63 679.3,603.7 C681.4,604.77 678.58,604.37 684.7,604.6 C690.82,604.83 710.12,605.02 716,605.1 C721.88,605.18 719.33,605.1 720,605.1" stroke="#e03424" stroke-width="3.2" stroke-linejoin="round"/><line x1="497.3" y1="607.9" x2="497.3" y2="519" stroke="#006fec" stroke-width="2.8" stroke-dasharray="10.1 4.4"/><line x1="575.3" y1="607.9" x2="575.3" y2="519" stroke="#006fec" stroke-width="2.8" stroke-dasharray="10.1 4.4"/><path d="M410,606.4 C410.9,606.4 409.57,606.45 415.4,606.4 C421.23,606.35 437.23,606.25 445,606.1 C452.77,605.95 458.08,605.82 462,605.5 C465.92,605.18 466.27,605.58 468.5,604.2 C470.73,602.82 473.4,600.08 475.4,597.2 C477.4,594.32 478.8,591.75 480.5,586.9 C482.2,582.05 483.88,574.93 485.6,568.1 C487.32,561.27 489.37,552.45 490.8,545.9 C492.23,539.35 493.2,533.22 494.2,528.8 C495.2,524.38 495.8,521.67 496.8,519.4 C497.8,517.13 499.07,515.33 500.2,515.2 C501.33,515.07 502.32,516.33 503.6,518.6 C504.88,520.87 506.62,526.1 507.9,528.8 C509.18,531.5 510.32,534.22 511.3,534.8 C512.28,535.38 512.95,534.72 513.8,532.3 C514.65,529.88 515.53,526.28 516.4,520.3 C517.27,514.32 518.15,505.52 519,496.4 C519.85,487.28 520.78,474.28 521.5,465.6 C522.22,456.92 522.53,454.65 523.3,444.3 C524.07,433.95 525.17,417.33 526.1,403.5 C527.03,389.67 528.07,371.85 528.9,361.3 C529.73,350.75 530.38,346.07 531.1,340.2 C531.82,334.33 532.38,329.38 533.2,326.1 C534.02,322.82 535.07,320.5 536,320.5 C536.93,320.5 537.87,322.82 538.8,326.1 C539.73,329.38 540.67,335.27 541.6,340.2 C542.53,345.13 543.23,349.13 544.4,355.7 C545.57,362.27 547.27,371.63 548.6,379.6 C549.93,387.57 551.17,394.83 552.4,403.5 C553.63,412.17 554.75,422.67 556,431.6 C557.25,440.53 558.35,448.62 559.9,457.1 C561.45,465.58 563.48,474.95 565.3,482.5 C567.12,490.05 568.98,496.08 570.8,502.4 C572.62,508.72 574.1,514.68 576.2,520.4 C578.3,526.12 580.68,531.27 583.4,536.7 C586.12,542.13 588.88,547.57 592.5,553 C596.12,558.43 600.58,564.78 605.1,569.3 C609.62,573.82 614.47,576.78 619.6,580.1 C624.73,583.42 630.47,586.48 635.9,589.2 C641.33,591.92 647.08,594.43 652.2,596.4 C657.32,598.37 662.38,599.48 666.6,601 C670.82,602.52 674.48,604.6 677.5,605.5 C680.52,606.4 678.28,606.25 684.7,606.4 C691.12,606.55 710.12,606.4 716,606.4 C721.88,606.4 719.33,606.4 720,606.4" stroke="#006fec" stroke-width="3.6" stroke-linejoin="round"/></g><g clip-path="url(#cp22)" fill="none"><line x1="824.6" y1="910.8" x2="824.6" y2="810" stroke="#e03424" stroke-width="2.8" stroke-dasharray="10.1 4.4"/><line x1="892.3" y1="910.8" x2="892.3" y2="814" stroke="#e03424" stroke-width="2.8" stroke-dasharray="10.1 4.4"/><path d="M728.2,907.9 C733.78,907.87 751.55,907.95 761.7,907.7 C771.85,907.45 782.97,906.97 789.1,906.4 C795.23,905.83 795.98,905.53 798.5,904.3 C801.02,903.07 802.55,901.78 804.2,899 C805.85,896.22 806.98,893.03 808.4,887.6 C809.82,882.17 811.27,874.18 812.7,866.4 C814.13,858.62 815.7,848.47 817,840.9 C818.3,833.33 819.45,825.85 820.5,821 C821.55,816.15 822.23,813.92 823.3,811.8 C824.37,809.68 825.6,809.08 826.9,808.3 C828.2,807.52 829.92,807.7 831.1,807.1 C832.28,806.5 833.05,806.4 834,804.7 C834.95,803 836.08,800.02 836.8,796.9 C837.52,793.78 837.77,790.48 838.3,786 C838.83,781.52 839.4,776 840,770 C840.6,764 841.25,756.67 841.9,750 C842.55,743.33 843.25,736.67 843.9,730 C844.55,723.33 845.18,716.67 845.8,710 C846.42,703.33 846.93,696.67 847.6,690 C848.27,683.33 849.07,675.67 849.8,670 C850.53,664.33 851.33,659.42 852,656 C852.67,652.58 853.2,651.02 853.8,649.5 C854.4,647.98 854.98,647.07 855.6,646.9 C856.22,646.73 856.83,647.45 857.5,648.5 C858.17,649.55 858.85,650.78 859.6,653.2 C860.35,655.62 861.13,659.28 862,663 C862.87,666.72 863.33,668.33 864.8,675.5 C866.27,682.67 868.9,695.25 870.8,706 C872.7,716.75 874.82,731 876.2,740 C877.58,749 877.85,753.38 879.1,760 C880.35,766.62 881.93,772.87 883.7,779.7 C885.47,786.53 887.68,794.67 889.7,801 C891.72,807.33 893.77,812.4 895.8,817.7 C897.83,823 899.62,827.75 901.9,832.8 C904.18,837.85 906.72,843.18 909.5,848 C912.28,852.82 915.32,857.65 918.6,861.7 C921.88,865.75 925.17,869.02 929.2,872.3 C933.23,875.58 938.5,878.87 942.8,881.4 C947.1,883.93 950.43,885.6 955,887.5 C959.57,889.4 964.63,891.28 970.2,892.8 C975.77,894.32 983.1,895.33 988.4,896.6 C993.7,897.87 997.27,899.27 1002,900.4 C1006.73,901.53 1013.47,902.73 1016.8,903.4 C1020.13,904.07 1021.13,904.23 1022,904.4" stroke="#e03424" stroke-width="3.2" stroke-linejoin="round"/><line x1="822.2" y1="910.8" x2="822.2" y2="816" stroke="#006fec" stroke-width="2.8" stroke-dasharray="10.1 4.4"/><line x1="886.4" y1="910.8" x2="886.4" y2="805" stroke="#006fec" stroke-width="2.8" stroke-dasharray="10.1 4.4"/><path d="M749,910.2 C750.83,910.18 755.35,910.17 760,910.1 C764.65,910.03 771.9,909.95 776.9,909.8 C781.9,909.65 786.4,909.53 790,909.2 C793.6,908.87 796.13,908.8 798.5,907.8 C800.87,906.8 802.55,905.62 804.2,903.2 C805.85,900.78 807.22,897.08 808.4,893.3 C809.58,889.52 810.35,885.93 811.3,880.5 C812.25,875.07 813.15,868.02 814.1,860.7 C815.05,853.38 816.17,843.92 817,836.6 C817.83,829.28 818.52,822.7 819.1,816.8 C819.68,810.9 819.92,805.22 820.5,801.2 C821.08,797.18 821.77,794.48 822.6,792.7 C823.43,790.92 824.55,790.5 825.5,790.5 C826.45,790.5 827.37,791.52 828.3,792.7 C829.23,793.88 830.27,796.55 831.1,797.6 C831.93,798.65 832.58,799.58 833.3,799 C834.02,798.42 834.82,796.93 835.4,794.1 C835.98,791.27 836.27,786.85 836.8,782 C837.33,777.15 837.98,771.17 838.6,765 C839.22,758.83 839.83,751.67 840.5,745 C841.17,738.33 841.97,731.67 842.6,725 C843.23,718.33 843.75,711.43 844.3,705 C844.85,698.57 845.17,694.28 845.9,686.4 C846.63,678.52 847.75,666.3 848.7,657.7 C849.65,649.1 850.8,639.92 851.6,634.8 C852.4,629.68 852.92,628.85 853.5,627 C854.08,625.15 854.32,623.4 855.1,623.7 C855.88,624 857.12,624.82 858.2,628.8 C859.28,632.78 860.32,639.92 861.6,647.6 C862.88,655.28 864.33,665.22 865.9,674.9 C867.47,684.58 869.3,694.88 871,705.7 C872.7,716.52 874.9,730.75 876.1,739.8 C877.3,748.85 877.27,753.3 878.2,760 C879.13,766.7 880.28,772.67 881.7,780 C883.12,787.33 884.85,797.22 886.7,804 C888.55,810.78 890.53,814.88 892.8,820.7 C895.07,826.52 897.52,833.33 900.3,838.9 C903.08,844.47 906.2,849.28 909.5,854.1 C912.8,858.92 916.07,863.5 920.1,867.8 C924.13,872.1 928.9,876.37 933.7,879.9 C938.5,883.43 943.83,886.35 948.9,889 C953.97,891.65 959.03,893.9 964.1,895.8 C969.17,897.7 974.25,899.13 979.3,900.4 C984.35,901.67 988.28,902.47 994.4,903.4 C1000.52,904.33 1011.4,905.47 1016,906 C1020.6,906.53 1021,906.5 1022,906.6" stroke="#006fec" stroke-width="3.6" stroke-linejoin="round"/></g><rect x="114.4" y="2" width="301" height="303" fill="none" stroke="#000" stroke-width="2.3"/><rect x="114.4" y="305" width="301" height="302.9" fill="none" stroke="#000" stroke-width="2.3"/><rect x="415.4" y="305" width="300.6" height="302.9" fill="none" stroke="#000" stroke-width="2.3"/><rect x="114.4" y="607.9" width="301" height="302.9" fill="none" stroke="#000" stroke-width="2.3"/><rect x="415.4" y="607.9" width="300.6" height="302.9" fill="none" stroke="#000" stroke-width="2.3"/><rect x="716" y="607.9" width="300.8" height="302.9" fill="none" stroke="#000" stroke-width="2.3"/><g font-family="Liberation Serif" fill="#000"><rect x="175.57" y="935.42" width="23.5" height="1.55"/><text transform="matrix(1.0795,0,0,1,202.35,945.60)" font-size="37.14">8</text><rect x="476.46" y="935.42" width="23.5" height="1.55"/><text transform="matrix(1.0795,0,0,1,503.24,945.60)" font-size="37.14">8</text><rect x="250.82" y="935.42" width="23.5" height="1.55"/><text transform="matrix(1.1197,0,0,1,276.44,945.60)" font-size="37.71">7</text><rect x="551.61" y="935.42" width="23.5" height="1.55"/><text transform="matrix(1.1197,0,0,1,577.23,945.60)" font-size="37.71">7</text><rect x="326.07" y="935.42" width="23.5" height="1.55"/><text transform="matrix(1.0922,0,0,1,351.92,945.60)" font-size="37.31">6</text><rect x="626.76" y="935.42" width="23.5" height="1.55"/><text transform="matrix(1.0922,0,0,1,652.61,945.60)" font-size="37.31">6</text><rect x="780.34" y="935.42" width="23.5" height="1.55"/><text transform="matrix(1.0894,0,0,1,806.55,945.60)" font-size="37.31">2</text><rect x="851.96" y="935.42" width="23.5" height="1.55"/><text transform="matrix(0.9641,0,0,1,878.89,945.60)" font-size="37.42">1</text><text transform="matrix(1.0922,0,0,1,935.24,945.60)" font-size="37.14">0</text><text transform="matrix(1.0731,0,0,1,85.79,537.60)" font-size="37.14">8</text><rect x="59.3" y="527.22" width="23.4" height="1.55"/><text transform="matrix(1.1328,0,0,1,84.18,461.88)" font-size="37.71">7</text><rect x="59.3" y="451.50" width="23.4" height="1.55"/><text transform="matrix(1.1486,0,0,1,84.46,386.15)" font-size="37.31">6</text><rect x="59.3" y="375.77" width="23.4" height="1.55"/><text transform="matrix(1.0627,0,0,1,86.36,837.26)" font-size="37.31">2</text><rect x="59.3" y="826.88" width="23.4" height="1.55"/><text transform="matrix(1.0931,0,0,1,85.10,765.14)" font-size="37.42">1</text><rect x="59.3" y="754.76" width="23.4" height="1.55"/><text transform="matrix(1.0922,0,0,1,85.66,693.02)" font-size="37.14">0</text></g><g font-family="Liberation Serif" fill="#000"><text transform="matrix(1.0580,0,0,1,146.63,984.50)" font-size="36.31">log</text><text transform="matrix(1.2142,0,0,1,195.94,993.42)" font-size="27.70">10</text><text transform="matrix(1.3948,0,0,1,239.65,983.90)" font-size="35.66" font-style="italic">f</text><text transform="matrix(1.4347,0,0,1,257.64,993.48)" font-size="22.04">max</text><text transform="matrix(1.0294,0,0,1,320.00,992.17)" font-size="52.77">/</text><text transform="matrix(1.0206,0,0,1,337.47,984.50)" font-size="38.17">Hz</text><text transform="matrix(1.0625,0,0,1,450.03,984.50)" font-size="36.31">log</text><text transform="matrix(1.2018,0,0,1,499.27,993.42)" font-size="27.70">10</text><text transform="matrix(1.4021,0,0,1,543.15,983.90)" font-size="35.66" font-style="italic">f</text><text transform="matrix(1.5012,0,0,1,560.83,993.50)" font-size="21.30">min</text><text transform="matrix(1.0089,0,0,1,618.20,992.17)" font-size="52.77">/</text><text transform="matrix(1.0088,0,0,1,635.48,984.50)" font-size="38.17">Hz</text><text transform="matrix(1.0447,0,0,1,806.54,984.50)" font-size="36.31">log</text><text transform="matrix(1.2018,0,0,1,856.07,993.42)" font-size="27.70">10</text><text transform="matrix(0.9865,0,0,1,901.52,984.40)" font-size="39.09" font-style="italic">A</text><g transform="matrix(0,-1,1,0,-957.3,1021.8)"><text transform="matrix(1.0625,0,0,1,450.03,984.50)" font-size="36.31">log</text><text transform="matrix(1.2018,0,0,1,499.27,993.42)" font-size="27.70">10</text><text transform="matrix(1.4021,0,0,1,543.15,983.90)" font-size="35.66" font-style="italic">f</text><text transform="matrix(1.5012,0,0,1,560.83,993.50)" font-size="21.30">min</text><text transform="matrix(1.0089,0,0,1,618.20,992.17)" font-size="52.77">/</text><text transform="matrix(1.0088,0,0,1,635.48,984.50)" font-size="38.17">Hz</text></g><g transform="matrix(0,-1,1,0,-955.5,1626.0)"><text transform="matrix(1.0447,0,0,1,806.54,984.50)" font-size="36.31">log</text><text transform="matrix(1.2018,0,0,1,856.07,993.42)" font-size="27.70">10</text><text transform="matrix(0.9865,0,0,1,901.52,984.40)" font-size="39.09" font-style="italic">A</text></g></g><g font-family="Liberation Serif" fill="#2a8a86"><text transform="matrix(1.4637,0,0,1,518.77,844.29)" font-size="26.83" font-style="italic">f</text><text transform="matrix(1.3462,0,0,1,534.07,850.60)" font-size="23.82">PBH</text><rect x="610.8" y="834.15" width="21.4" height="1.35"/><rect x="610.8" y="840.25" width="21.4" height="1.35"/><text transform="matrix(1.1070,0,0,1,644.12,844.90)" font-size="28.48">1</text></g><rect x="596.5" y="2.3" width="419.9" height="102" rx="8" ry="8" fill="#fff" stroke="#d4d4d4" stroke-width="4.6"/><rect x="607.1" y="13.3" width="71" height="27.6" fill="#e03424"/><rect x="607.1" y="59.1" width="71" height="27.9" fill="#006fec"/><g font-family="Liberation Serif" fill="#000"><text transform="matrix(1.1421,0,0,1,701.48,38.60)" font-size="26.44">SIGW-BOX</text><rect x="865.2" y="29.4" width="23.6" height="1.45"/><rect x="876.3" y="18.6" width="1.45" height="23.6"/><text transform="matrix(1.0829,0,0,1,902.98,38.60)" font-size="26.44">SMBHB</text><text transform="matrix(1.1688,0,0,1,701.48,84.80)" font-size="25.83">SIGW-BOX</text></g></svg>
</body></html>
